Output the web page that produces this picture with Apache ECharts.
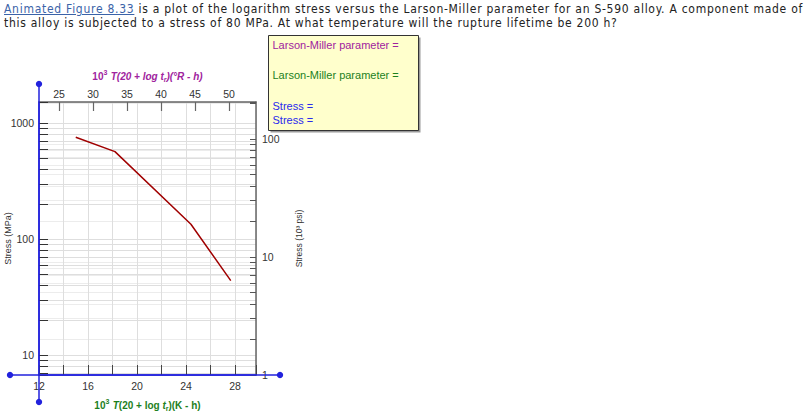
<!DOCTYPE html>
<html>
<head>
<meta charset="utf-8">
<title>S-590 Larson-Miller plot</title>
<script src="https://cdn.jsdelivr.net/npm/echarts@6/dist/echarts.min.js"></script>
<style>
  html, body { margin: 0; padding: 0; background: #fff; }
  #wrap { position: relative; width: 807px; height: 416px; overflow: hidden; }
  #chart { position: absolute; left: 0; top: 0; width: 807px; height: 416px; }
  #intro { position: absolute; left: 4px; top: 2px; font: 12px/14px "DejaVu Sans Condensed", "DejaVu Sans", sans-serif; color: #222; white-space: nowrap; }
  #intro a { color: #3b63a8; text-decoration: underline; }
</style>
</head>
<body>
<div id="wrap">
  <div id="chart"></div>
  <div id="intro">
    <div id="line1"><a>Animated Figure 8.33</a> is a plot of the logarithm stress versus the Larson-Miller parameter for an S-590 alloy. A component made of</div>
    <div id="line2">this alloy is subjected to a stress of 80 MPa. At what temperature will the rupture lifetime be 200 h?</div>
  </div>
</div>
<script>
// curve: LM parameter (K-h, x10^3) vs stress (MPa)
const kelvinParam = [15.0, 18.2, 24.4, 27.65];
const stressMPa = [760, 570, 135, 44];
// tick labels
const kelvinLabels = [12, 16, 20, 24, 28];
const rankineLabels = [25, 30, 35, 40, 45, 50];

// fit the intro text line to the page width
(function () {
  const l1 = document.getElementById('line1');
  const w = l1.getBoundingClientRect().width;
  const chars = l1.textContent.length;
  const ls = (799 - w) / chars;
  document.getElementById('intro').style.letterSpacing = ls + 'px';
})();

const FONT = '"Liberation Sans", Arial, sans-serif';
const PURPLE = '#a0239e';
const GREEN = '#1d7f1d';
const BLUE = '#2222dd';
const FRAME = '#666';
const GRID = '#dedede';

// plot box
const gLeft = 39, gTop = 102, gW = 217, gH = 273;

const chart = echarts.init(document.getElementById('chart'), null, { renderer: 'svg' });

const labelStyle = { color: '#333', fontSize: 10.5, fontFamily: FONT };

// only label the decades on the log axes
function decadeLabel (v) {
  const l = Math.log10(v);
  return Math.abs(l - Math.round(l)) < 1e-6 ? String(Math.round(v)) : '';
}

function richName (color, italicAll) {
  const base = { fontSize: 10, fontWeight: 'bold', color: color, fontFamily: FONT, lineHeight: 14 };
  return {
    fontFamily: FONT,
    rich: {
      n: base,
      i: Object.assign({}, base, { fontStyle: 'italic' }),
      s: Object.assign({}, base, { fontSize: 7, verticalAlign: 'top' }),
      b: Object.assign({}, base, { fontSize: 7, verticalAlign: 'bottom', lineHeight: 12, fontStyle: italicAll ? 'italic' : 'normal' })
    }
  };
}

const option = {
  animation: false,
  grid: { left: gLeft, top: gTop, width: gW, height: gH, containLabel: false, outerBoundsMode: 'none' },
  xAxis: [
    {
      type: 'value',
      position: 'bottom',
      min: 12,
      max: 29.71,
      interval: 2,
      name: '{n|10}{s|3} {i|T}{n|(20 + log }{i|t}{b|r}{n|)(K - h)}',
      nameLocation: 'middle',
      nameGap: 23,
      nameTextStyle: richName(GREEN, false),
      axisLine: { show: true, lineStyle: { color: BLUE, width: 1.5 } },
      axisTick: { show: true, inside: true, length: 10, lineStyle: { color: '#444' } },
      axisLabel: Object.assign({ customValues: kelvinLabels, margin: 5 }, labelStyle),
      splitLine: { show: true, lineStyle: { color: GRID, width: 1 } }
    },
    {
      type: 'value',
      position: 'top',
      min: 22.06,
      max: 53.97,
      name: '{n|10}{s|3} {i|T(20 + log t}{b|r}{i|)(°R - h)}',
      nameLocation: 'middle',
      nameGap: 19,
      nameTextStyle: richName(PURPLE, true),
      axisLine: { show: true, lineStyle: { color: FRAME, width: 1.5 } },
      axisTick: { show: true, inside: true, length: 9, customValues: rankineLabels, lineStyle: { color: FRAME, width: 1.2 } },
      axisLabel: Object.assign({ customValues: rankineLabels, margin: 3 }, labelStyle),
      splitLine: { show: false }
    }
  ],
  yAxis: [
    {
      type: 'log',
      logBase: 10,
      position: 'left',
      min: 6.76,
      max: 1528,
      name: 'Stress (MPa)',
      nameLocation: 'middle',
      nameGap: 27,
      nameMoveOverlap: false,
      nameRotate: 90,
      nameTextStyle: { color: '#333', fontSize: 9, fontFamily: FONT },
      axisLine: { show: true, lineStyle: { color: BLUE, width: 1.5 } },
      axisTick: { show: true, inside: true, length: 9, lineStyle: { color: '#333' } },
      minorTick: { show: true, splitNumber: 9, length: 9, lineStyle: { color: '#333' } },
      axisLabel: Object.assign({ margin: 5, formatter: decadeLabel }, labelStyle),
      splitLine: { show: true, lineStyle: { color: GRID } },
      minorSplitLine: { show: true, lineStyle: { color: GRID } }
    },
    {
      type: 'log',
      logBase: 10,
      position: 'right',
      min: 1,
      max: 206,
      name: 'Stress (10³ psi)',
      nameLocation: 'middle',
      nameGap: 38,
      nameRotate: 90,
      nameTextStyle: { color: '#333', fontSize: 8.5, fontFamily: FONT },
      axisLine: { show: true, lineStyle: { color: FRAME, width: 1.5 } },
      axisTick: { show: true, inside: true, length: 6, lineStyle: { color: '#555' } },
      minorTick: { show: true, splitNumber: 9, length: 6, lineStyle: { color: '#555' } },
      axisLabel: Object.assign({ margin: 6, formatter: decadeLabel }, labelStyle),
      splitLine: { show: false },
      minorSplitLine: { show: true, lineStyle: { color: '#ececec' } }
    }
  ],
  series: [
    {
      type: 'line',
      xAxisIndex: 0,
      yAxisIndex: 0,
      symbol: 'none',
      lineStyle: { color: '#a00000', width: 1.5 },
      data: kelvinParam.map((k, i) => [k, stressMPa[i]]),
      z: 5
    }
  ],
  graphic: [
    // blue cursor lines of the original applet
    { type: 'line', shape: { x1: gLeft, y1: 84, x2: gLeft, y2: 402 }, style: { stroke: BLUE, lineWidth: 1.5 }, z: 10 },
    { type: 'line', shape: { x1: 10, y1: gTop + gH, x2: 280, y2: gTop + gH }, style: { stroke: BLUE, lineWidth: 1.5 }, z: 10 },
    { type: 'circle', shape: { cx: gLeft, cy: 84, r: 3.2 }, style: { fill: BLUE }, z: 11 },
    { type: 'circle', shape: { cx: gLeft, cy: 402, r: 3.2 }, style: { fill: BLUE }, z: 11 },
    { type: 'circle', shape: { cx: 10, cy: gTop + gH, r: 3.2 }, style: { fill: BLUE }, z: 11 },
    { type: 'circle', shape: { cx: 280, cy: gTop + gH, r: 3.2 }, style: { fill: BLUE }, z: 11 },
    // readout box
    {
      type: 'group',
      left: 268,
      top: 35,
      z: 20,
      children: [
        { type: 'rect', shape: { x: 2, y: 2, width: 150, height: 95 }, style: { fill: '#9a9a9a' } },
        { type: 'rect', shape: { x: 0, y: 0, width: 150, height: 95 }, style: { fill: '#ffffcc', stroke: '#333', lineWidth: 1 } },
        { type: 'text', x: 4, y: 9, style: { text: 'Larson-Miller parameter =', fill: PURPLE, font: '11px ' + FONT, verticalAlign: 'middle' } },
        { type: 'text', x: 4, y: 39, style: { text: 'Larson-Miller parameter =', fill: GREEN, font: '11px ' + FONT, verticalAlign: 'middle' } },
        { type: 'text', x: 4, y: 70, style: { text: 'Stress =', fill: '#2a2aee', font: '11px ' + FONT, verticalAlign: 'middle' } },
        { type: 'text', x: 4, y: 84, style: { text: 'Stress =', fill: '#2a2aee', font: '11px ' + FONT, verticalAlign: 'middle' } }
      ]
    }
  ]
};

chart.setOption(option);
</script>
</body>
</html>
